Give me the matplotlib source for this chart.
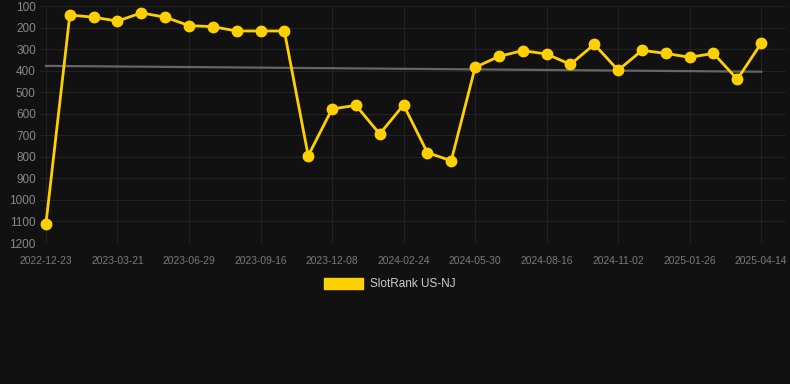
import numpy as np
import matplotlib.pyplot as plt
from matplotlib.patches import Patch

plt.rcParams['font.family'] = ['Liberation Sans', 'DejaVu Sans']

# rank values, one per period (lower is better)
ranks = [1110, 142, 152, 170, 132, 152, 191, 196, 216, 216, 216,
         795, 578, 561, 694, 559, 781, 818,
         385, 334, 307, 323, 371, 278, 398, 306, 320, 338, 320, 440, 273]
tick_labels = ['2022-12-23', '2023-03-21', '2023-06-29', '2023-09-16',
               '2023-12-08', '2024-02-24', '2024-05-30', '2024-08-16',
               '2024-11-02', '2025-01-26', '2025-04-14']
trend_ends = [378, 405]
series_name = 'SlotRank US-NJ'

bg = '#111111'
gold = '#FFD000'

fig = plt.figure(figsize=(7.9, 3.84), dpi=100, facecolor=bg)
ax = fig.add_axes([40 / 790, 1 - 243 / 384, 745 / 790, 237 / 384], facecolor=bg)

x = np.arange(len(ranks))
ax.plot([x[0], x[-1]], trend_ends, color='#666666', lw=1.6, zorder=2)
ax.plot(x, ranks, color=gold, lw=2.0, marker='o', markersize=7.5, zorder=3)

ax.set_ylim(1200, 100)
ax.set_xlim(-0.25, 31)
ax.set_yticks(range(100, 1300, 100))
ax.set_xticks(x[::3])
ax.set_xticklabels(tick_labels)

ax.grid(True, color='#222222', lw=0.8)
ax.set_axisbelow(True)
for s in ax.spines.values():
    s.set_visible(False)
ax.tick_params(axis='y', colors='#888888', labelsize=8.5, length=0, pad=3)
ax.tick_params(axis='x', colors='#7a7a7a', labelsize=7.4, length=0, pad=9)

handle = Patch(facecolor=gold, edgecolor=gold)
fig.legend([handle], [series_name], loc='center', bbox_to_anchor=(390 / 790, 1 - 284 / 384),
           frameon=False, handlelength=3.3, handleheight=1.1, handletextpad=0.6,
           fontsize=8.5, labelcolor='#cccccc')

fig.savefig('out.png', dpi=100, facecolor=bg)
